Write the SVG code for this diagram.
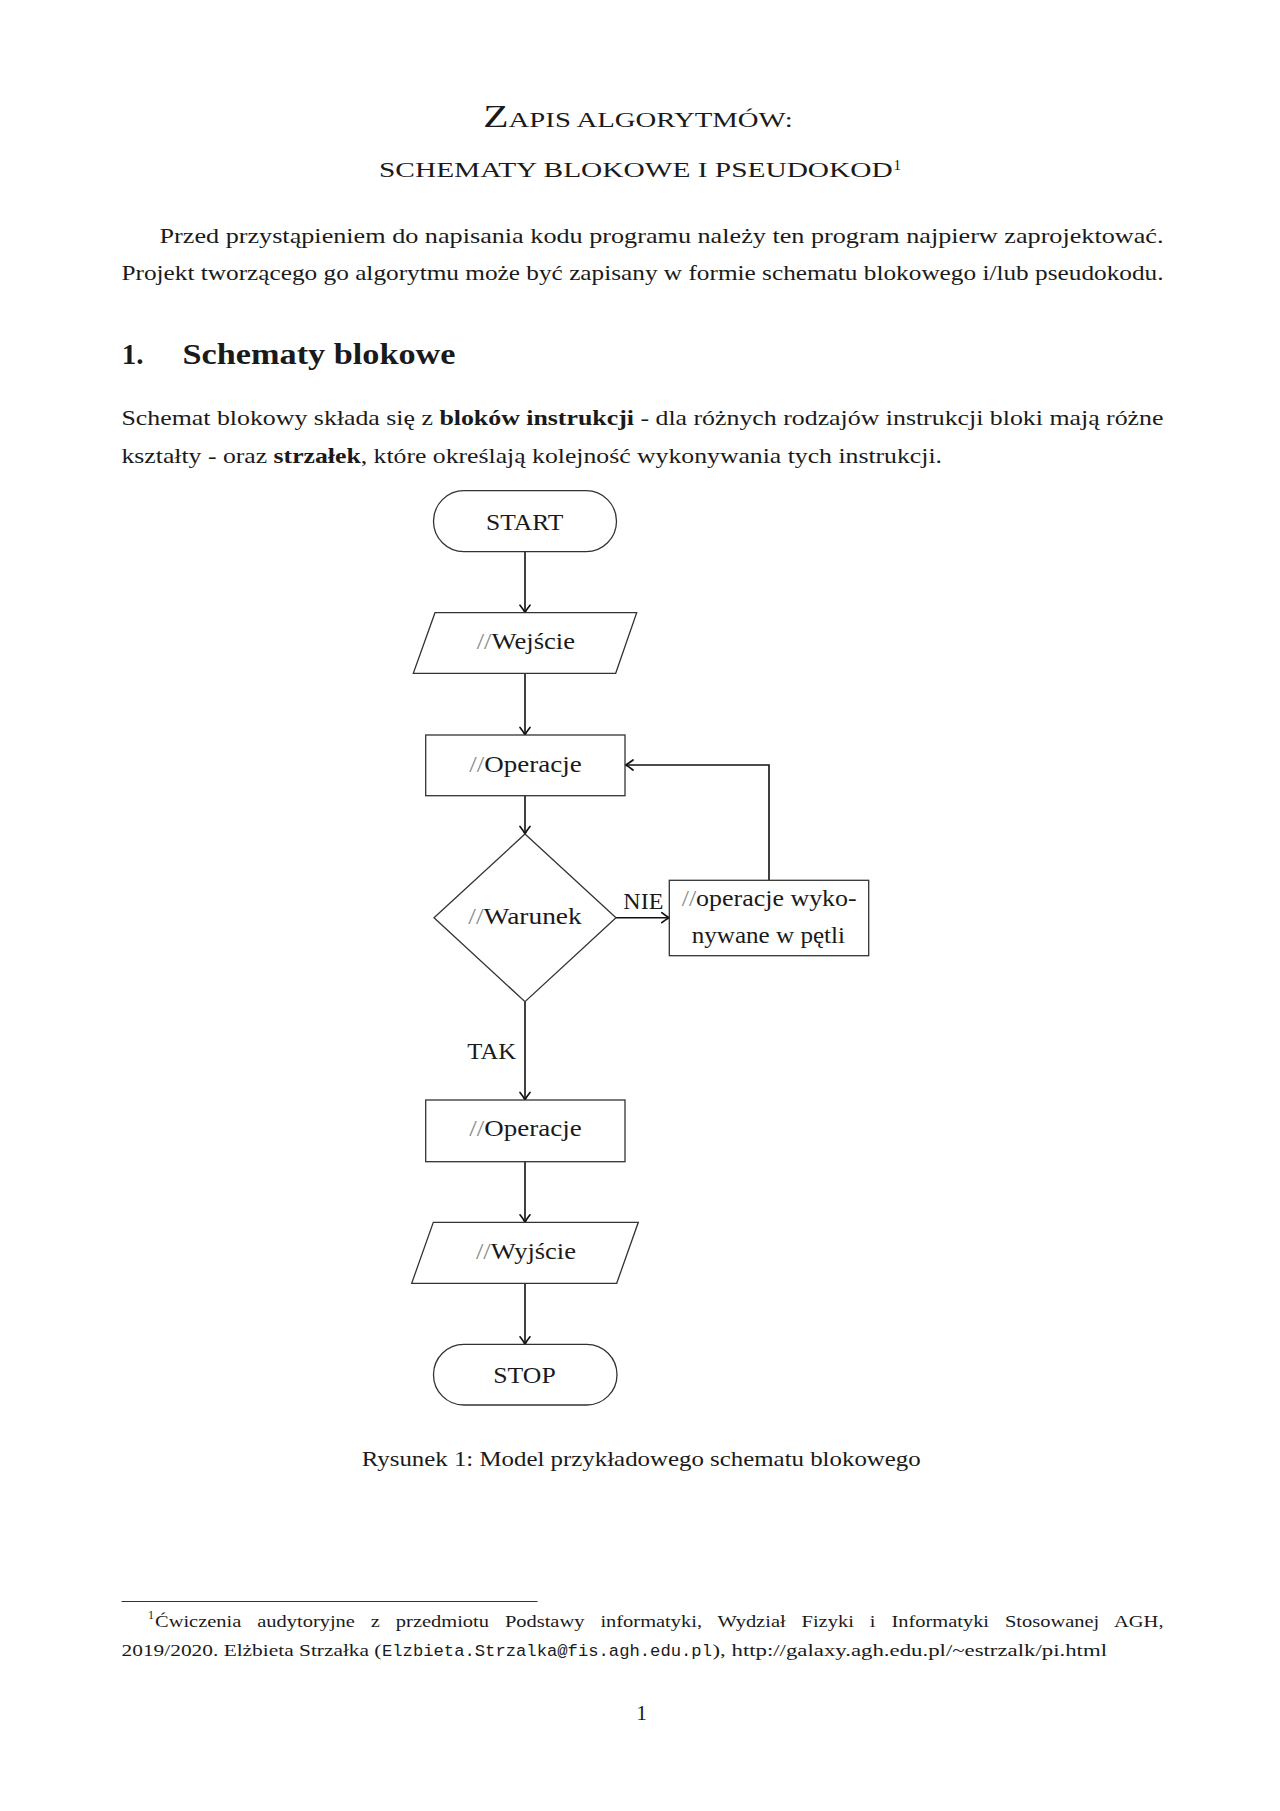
<svg xmlns="http://www.w3.org/2000/svg" width="1280" height="1811" viewBox="0 0 1280 1811">
<style>
text{font-family:"Liberation Serif","Times New Roman",serif;fill:#1a1a1a}
.body{font-size:21.5px}
.b{font-weight:bold}
.fc{font-size:24px}
.sl{fill:#8a8a8a}
.fn{font-size:17px}
.mono{font-family:"Liberation Mono","Courier New",monospace;font-size:17.2px}
.box{fill:#fff;stroke:#333;stroke-width:1.3}
.con{fill:none;stroke:#111;stroke-width:1.6;marker-end:url(#arr)}
</style>
<defs>
<marker id="arr" markerUnits="userSpaceOnUse" markerWidth="16" markerHeight="16" viewBox="-9 -8 11 16" refX="0" refY="0" orient="auto">
<path d="M-7.5,-5 Q-3,-1.3 0,0 Q-3,1.3 -7.5,5" fill="none" stroke="#111" stroke-width="1.7" stroke-linecap="round"/>
</marker>
</defs>
<rect width="1280" height="1811" fill="#fff"/>

<g id="title">
<text x="483.3" y="127.3" textLength="309.4" lengthAdjust="spacingAndGlyphs"><tspan font-size="31">Z</tspan><tspan font-size="21.5">APIS ALGORYTMÓW:</tspan></text>
<text x="379" y="177.3" font-size="21.5" textLength="513.7" lengthAdjust="spacingAndGlyphs">SCHEMATY BLOKOWE I PSEUDOKOD</text>
<text x="893.5" y="170" font-size="15">1</text>
</g>

<g id="intro">
<text class="body" x="159.5" y="242.5" textLength="1004" lengthAdjust="spacingAndGlyphs">Przed przystąpieniem do napisania kodu programu należy ten program najpierw zaprojektować.</text>
<text class="body" x="121.5" y="279.5" textLength="1042" lengthAdjust="spacingAndGlyphs">Projekt tworzącego go algorytmu może być zapisany w formie schematu blokowego i/lub pseudokodu.</text>
</g>

<g id="heading">
<text class="b" x="121.7" y="364" font-size="29">1.</text>
<text class="b" x="182.5" y="364" font-size="29" textLength="273" lengthAdjust="spacingAndGlyphs">Schematy blokowe</text>
</g>

<g id="para2">
<text class="body" x="121.5" y="425" textLength="1042" lengthAdjust="spacingAndGlyphs">Schemat blokowy składa się z <tspan class="b">bloków instrukcji</tspan> - dla różnych rodzajów instrukcji bloki mają różne</text>
<text class="body" x="121.5" y="463" textLength="820.5" lengthAdjust="spacingAndGlyphs">kształty - oraz <tspan class="b">strzałek</tspan>, które określają kolejność wykonywania tych instrukcji.</text>
</g>

<g id="connectors">
<path class="con" d="M525,551.7 V612.7"/>
<path class="con" d="M525,673.3 V735"/>
<path class="con" d="M525,795.7 V834"/>
<path class="con" d="M616,917.7 H669.3"/>
<path class="con" d="M769,880.3 V765 H625.5"/>
<path class="con" d="M525,1001.7 V1100"/>
<path class="con" d="M525,1161.7 V1222.3"/>
<path class="con" d="M525,1283.3 V1344.3"/>
<text class="fc" x="623.3" y="909.3" textLength="40" lengthAdjust="spacingAndGlyphs">NIE</text>
<text class="fc" x="467.3" y="1059.3" textLength="48.7" lengthAdjust="spacingAndGlyphs">TAK</text>
</g>

<g id="start">
<rect class="box" x="433.5" y="490.7" width="183" height="61" rx="30.5" ry="30.5"/>
<text class="fc" x="486" y="530" textLength="77.3" lengthAdjust="spacingAndGlyphs">START</text>
</g>

<g id="wejscie">
<polygon class="box" points="435,612.7 636.7,612.7 615.7,673.3 413.3,673.3"/>
<text class="fc" x="476.7" y="649.3" textLength="98.3" lengthAdjust="spacingAndGlyphs"><tspan class="sl">//</tspan>Wejście</text>
</g>

<g id="operacje1">
<rect class="box" x="425.7" y="735" width="199.3" height="60.7"/>
<text class="fc" x="469.3" y="771.7" textLength="112.4" lengthAdjust="spacingAndGlyphs"><tspan class="sl">//</tspan>Operacje</text>
</g>

<g id="warunek">
<polygon class="box" points="525,834 616,917.7 525,1001.7 434,917.7"/>
<text class="fc" x="468.3" y="924" textLength="113.4" lengthAdjust="spacingAndGlyphs"><tspan class="sl">//</tspan>Warunek</text>
</g>

<g id="petla">
<rect class="box" x="669.3" y="880.3" width="199.4" height="75.4"/>
<text class="fc" x="681.7" y="906" textLength="175" lengthAdjust="spacingAndGlyphs"><tspan class="sl">//</tspan>operacje wyko-</text>
<text class="fc" x="691.7" y="943.3" textLength="153.3" lengthAdjust="spacingAndGlyphs">nywane w pętli</text>
</g>

<g id="operacje2">
<rect class="box" x="425.7" y="1100" width="199.3" height="61.7"/>
<text class="fc" x="469.3" y="1136" textLength="112.4" lengthAdjust="spacingAndGlyphs"><tspan class="sl">//</tspan>Operacje</text>
</g>

<g id="wyjscie">
<polygon class="box" points="433.3,1222.3 638.3,1222.3 616.7,1283.3 411.7,1283.3"/>
<text class="fc" x="476" y="1259.3" textLength="100" lengthAdjust="spacingAndGlyphs"><tspan class="sl">//</tspan>Wyjście</text>
</g>

<g id="stop">
<rect class="box" x="433.5" y="1344.3" width="183.5" height="60.7" rx="30.35" ry="30.35"/>
<text class="fc" x="493.3" y="1383.3" textLength="62.4" lengthAdjust="spacingAndGlyphs">STOP</text>
</g>

<g id="caption">
<text class="body" x="361.7" y="1465.5" textLength="559" lengthAdjust="spacingAndGlyphs">Rysunek 1: Model przykładowego schematu blokowego</text>
</g>

<g id="footnote">
<line x1="121.5" y1="1601.5" x2="537.5" y2="1601.5" stroke="#333" stroke-width="1.2"/>
<text x="148" y="1618.5" font-size="12">1</text>
<text class="fn" x="155" y="1626.5" word-spacing="9" textLength="1008.5" lengthAdjust="spacingAndGlyphs">Ćwiczenia audytoryjne z przedmiotu Podstawy informatyki, Wydział Fizyki i Informatyki Stosowanej AGH,</text>
<text class="fn" x="121.5" y="1655.5" textLength="260" lengthAdjust="spacingAndGlyphs">2019/2020. Elżbieta Strzałka (</text>
<text class="mono" x="382" y="1655.5" textLength="330" lengthAdjust="spacing">Elzbieta.Strzalka@fis.agh.edu.pl</text>
<text class="fn" x="712.5" y="1655.5" textLength="394.5" lengthAdjust="spacingAndGlyphs">), http://galaxy.agh.edu.pl/~estrzalk/pi.html</text>
</g>

<g id="pagenum">
<text class="body" x="641.6" y="1720" text-anchor="middle">1</text>
</g>
</svg>
